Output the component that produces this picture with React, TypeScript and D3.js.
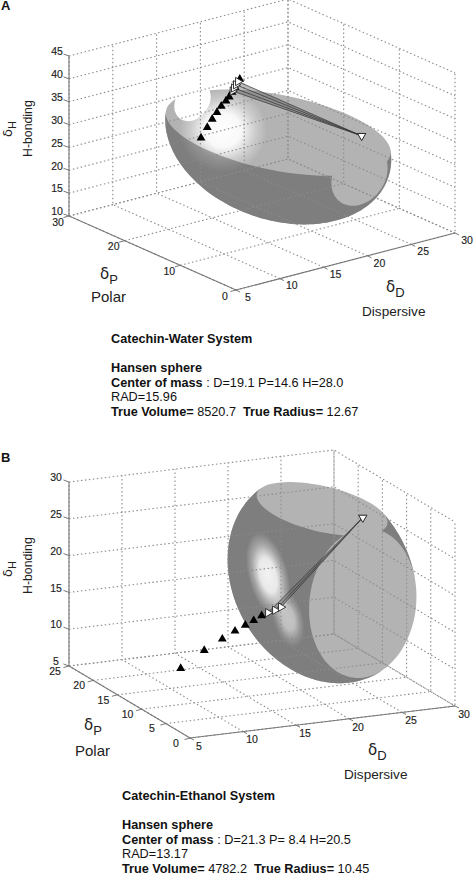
import React, { useMemo } from "react";
import * as d3 from "d3";

type P3 = [number, number, number];

// tick values, panel A (water)
const dTicksA = [5, 10, 15, 20, 25, 30];
const pTicksA = [0, 10, 20, 30];
const hTicksA = [10, 15, 20, 25, 30, 35, 40, 45];
// tick values, panel B (ethanol)
const dTicksB = [5, 10, 15, 20, 25, 30];
const pTicksB = [0, 5, 10, 15, 20, 25];
const hTicksB = [5, 10, 15, 20, 25, 30];

// Hansen sphere: D, P, H of the centre, then RAD
const centerA: P3 = [19.1, 14.6, 28.0];
const radA = 15.96;
const centerB: P3 = [21.3, 8.4, 20.5];
const radB = 13.17;

// [D, P, H] of the solvent mixtures
const blackA: P3[] = [
  [15.6, 22.97, 25.6], [15.6, 21.84, 28.5], [15.6, 20.95, 30.8], [15.6, 20.1, 32.7],
  [15.6, 19.33, 34.5], [15.6, 18.48, 36.1], [15.6, 17.89, 37.3], [15.6, 17.4, 38.6],
  [15.6, 16.85, 40.0], [15.6, 16.0, 42.2],
];
const openA: P3[] = [
  [15.6, 17.3, 38.9], [15.6, 17.05, 39.7], [15.6, 16.7, 40.6], [15.6, 16.33, 41.5],
];
const soluteA: P3 = [25.7, 10.0, 28.0];

const blackB: P3[] = [
  [12, 17.25, 6.5], [13, 14.57, 9.8], [13.5, 11.94, 12.3], [14, 10.41, 13.9],
  [14.5, 9.38, 15.0], [15, 8.74, 15.8], [15.3, 7.75, 16.8],
];
const openB: P3[] = [
  [15.5, 6.88, 17.5], [15.7, 5.87, 18.2], [15.8, 4.86, 19.0],
];
const soluteB: P3 = [25, 8.1, 28.3];

// where the surface catches the light: [D, P, H]
const glowA: P3[] = [[15.6, 19, 29.4]];
const glowB: P3[] = [[15.8, 7.5, 22.3], [15.8, 3.4, 18.1]];

const textA = ["Catechin-Water System", "Hansen sphere"];
const textB = ["Catechin-Ethanol System", "Hansen sphere"];

const font = "'Liberation Sans', Arial, sans-serif";
const INNER = "#b3b3b3";
const OUTER = "#7e7e7e";

type Cut = (p: P3) => number;

const clipPoly = (poly: P3[], f: Cut) => {
  const out: P3[] = [];
  poly.forEach((a, i) => {
    const b = poly[(i + 1) % poly.length];
    const fa = f(a);
    const fb = f(b);
    if (fa >= 0) out.push(a);
    if (fa >= 0 !== fb >= 0) {
      const t = fa / (fa - fb);
      out.push([a[0] + t * (b[0] - a[0]), a[1] + t * (b[1] - a[1]), a[2] + t * (b[2] - a[2])]);
    }
  });
  return out;
};

type PanelProps = {
  id: string;
  letter: string;
  letterY: number;
  dTicks: number[];
  pTicks: number[];
  hTicks: number[];
  center: P3;
  rad: number;
  hCut: number;
  black: P3[];
  open: P3[];
  solute: P3;
  glow: P3[];
  glowR: [number, number][];
  glowAlpha: number[];
  glowTilt: number;
  outerGlow: number;
  origin: [number, number];
  dVec: [number, number];
  pVec: [number, number];
  hLen: number;
  dOff: [number, number];
  pOff: [number, number];
  hOff: number;
  deltaP: [number, number];
  polar: [number, number];
  deltaD: [number, number];
  disp: [number, number];
  deltaH: [number, number];
  hLab: [number, number];
};

const Delta = ({ x, y, sub, rotate }: { x: number; y: number; sub: string; rotate?: boolean }) => (
  <text
    transform={`translate(${x},${y})${rotate ? " rotate(-90)" : ""}`}
    fontFamily={font}
    fontSize={rotate ? 13 : 15}
    fill="#222"
  >
    <tspan fontFamily="'DejaVu Sans'">δ</tspan>
    <tspan dy={rotate ? 4 : 5} fontSize={rotate ? 11 : 13}>{sub}</tspan>
  </text>
);

const Panel = (c: PanelProps) => {
  const dDom = d3.extent(c.dTicks) as [number, number];
  const pDom = d3.extent(c.pTicks) as [number, number];
  const hDom = d3.extent(c.hTicks) as [number, number];

  const dx = d3.scaleLinear().domain(dDom).range([0, c.dVec[0]]);
  const dy = d3.scaleLinear().domain(dDom).range([0, c.dVec[1]]);
  const px = d3.scaleLinear().domain(pDom).range([0, c.pVec[0]]);
  const py = d3.scaleLinear().domain(pDom).range([0, c.pVec[1]]);
  const hy = d3.scaleLinear().domain(hDom).range([0, -c.hLen]);

  const proj = (p: P3): [number, number] => [
    c.origin[0] + dx(p[0]) + px(p[1]),
    c.origin[1] + dy(p[0]) + py(p[1]) + hy(p[2]),
  ];
  const line = d3.line<P3>().x((p) => proj(p)[0]).y((p) => proj(p)[1]);

  const [dMin, dMax] = dDom;
  const [pMin, pMax] = pDom;
  const [hMin, hMax] = hDom;

  const surf = useMemo(() => {
    // view direction in data space, the null vector of the projection, towards the camera
    const r1: P3 = [dx(dMin + 1) - dx(dMin), px(pMin + 1) - px(pMin), 0];
    const r2: P3 = [dy(dMin + 1) - dy(dMin), py(pMin + 1) - py(pMin), hy(hMin + 1) - hy(hMin)];
    const view: P3 = [
      -(r1[1] * r2[2] - r1[2] * r2[1]),
      -(r1[2] * r2[0] - r1[0] * r2[2]),
      -(r1[0] * r2[1] - r1[1] * r2[0]),
    ];
    const semi: P3 = [c.rad / 2, c.rad, c.rad];
    const cuts: Cut[] = [
      (p) => p[1] - pMin,
      (p) => pMax - p[1],
      (p) => c.hCut - p[2],
    ];
    const nu = 96;
    const nv = 48;
    const pt = (i: number, j: number): P3 => {
      const u = (i / nu) * 2 * Math.PI;
      const v = (j / nv) * Math.PI - Math.PI / 2;
      return [
        c.center[0] + semi[0] * Math.cos(v) * Math.cos(u),
        c.center[1] + semi[1] * Math.cos(v) * Math.sin(u),
        c.center[2] + semi[2] * Math.sin(v),
      ];
    };
    let inner = "";
    let outer = "";
    for (let i = 0; i < nu; i++) {
      for (let j = 0; j < nv; j++) {
        const quad = [pt(i, j), pt(i + 1, j), pt(i + 1, j + 1), pt(i, j + 1)];
        const m = quad.reduce((s, q) => [s[0] + q[0] / 4, s[1] + q[1] / 4, s[2] + q[2] / 4], [0, 0, 0]);
        const facing =
          ((m[0] - c.center[0]) / semi[0] ** 2) * view[0] +
          ((m[1] - c.center[1]) / semi[1] ** 2) * view[1] +
          ((m[2] - c.center[2]) / semi[2] ** 2) * view[2];
        let poly: P3[] = quad;
        for (const f of cuts) {
          if (poly.length) poly = clipPoly(poly, f);
        }
        if (poly.length < 3) continue;
        const d = line(poly) + "Z";
        if (facing > 0) outer += d;
        else inner += d;
      }
    }
    return { inner, outer };
  }, [c.id]);

  const gridLines: P3[][] = [
    ...c.dTicks.map((d): P3[] => [[d, pMin, hMin], [d, pMax, hMin], [d, pMax, hMax]]),
    ...c.pTicks.map((p): P3[] => [[dMin, p, hMin], [dMax, p, hMin], [dMax, p, hMax]]),
    ...c.hTicks.map((h): P3[] => [[dMin, pMax, h], [dMax, pMax, h], [dMax, pMin, h]]),
  ];

  const tri = d3.symbol(d3.symbolTriangle, 34)()!;
  const triOpen = d3.symbol(d3.symbolTriangle, 30)()!;
  const lab = { fontFamily: font, fontSize: 10.5, fill: "#222", stroke: "#222", strokeWidth: 0.15 };

  const glows = (k: number) =>
    c.glow.map((g, i) => {
      const [cx, cy] = proj(g);
      return (
        <ellipse
          key={i}
          cx={cx}
          cy={cy}
          rx={c.glowR[i][0]}
          ry={c.glowR[i][1]}
          transform={`rotate(${c.glowTilt},${cx},${cy})`}
          fill={`url(#glow-${c.id})`}
          opacity={c.glowAlpha[i] * k}
        />
      );
    });

  return (
    <g>
      <defs>
        <clipPath id={`in-${c.id}`}><path d={surf.inner} /></clipPath>
        <clipPath id={`out-${c.id}`}><path d={surf.outer} /></clipPath>
        <radialGradient id={`glow-${c.id}`}>
          <stop offset="0" stopColor="#fff" stopOpacity={1} />
          <stop offset="0.4" stopColor="#fff" stopOpacity={0.92} />
          <stop offset="0.72" stopColor="#fff" stopOpacity={0.35} />
          <stop offset="1" stopColor="#fff" stopOpacity={0} />
        </radialGradient>
      </defs>

      <path d={surf.inner} fill={INNER} />
      <g clipPath={`url(#in-${c.id})`}>{glows(1)}</g>
      <path d={surf.outer} fill={OUTER} />
      <g clipPath={`url(#out-${c.id})`}>{glows(c.outerGlow)}</g>

      {gridLines.map((g, i) => (
        <path key={i} d={line(g)!} fill="none" stroke="#8c8c8c" strokeWidth={1.1} strokeDasharray="1.5 2.5" />
      ))}

      {/* axes */}
      <path d={line([[dMin, pMax, hMax], [dMin, pMax, hMin], [dMin, pMin, hMin], [dMax, pMin, hMin]])!} fill="none" stroke="#777" strokeWidth={1.1} />
      {c.hTicks.map((h) => {
        const [x, y] = proj([dMin, pMax, h]);
        return (
          <g key={h}>
            <path d={`M${x},${y}l-5.5,-2`} stroke="#777" />
            <text x={x + c.hOff} y={y - 3.5} textAnchor="middle" dominantBaseline="middle" {...lab}>{h}</text>
          </g>
        );
      })}
      {c.pTicks.map((p) => {
        const [x, y] = proj([dMin, p, hMin]);
        return (
          <g key={p}>
            <path d={`M${x},${y}l-5.5,1.5`} stroke="#777" />
            <text x={x + c.pOff[0]} y={y + c.pOff[1]} textAnchor="middle" dominantBaseline="middle" {...lab}>{p}</text>
          </g>
        );
      })}
      {c.dTicks.map((d) => {
        const [x, y] = proj([d, pMin, hMin]);
        return (
          <g key={d}>
            <path d={`M${x},${y}l4,2`} stroke="#777" />
            <text x={x + c.dOff[0]} y={y + c.dOff[1]} textAnchor="middle" dominantBaseline="middle" {...lab}>{d}</text>
          </g>
        );
      })}

      {/* tie lines to the solute, with the grey fan between them */}
      <path d={line([c.open[0], c.solute, c.open[c.open.length - 1]])! + "Z"} fill="#666" fillOpacity={0.45} />
      {c.open.map((o, i) => (
        <path key={i} d={line([o, c.solute])!} stroke="#333" strokeOpacity={0.8} strokeWidth={0.9} fill="none" />
      ))}
      {c.black.map((b, i) => (
        <path key={i} d={tri} transform={`translate(${proj(b)[0]},${proj(b)[1]})`} fill="#000" />
      ))}
      {c.open.map((o, i) => (
        <path key={i} d={triOpen} transform={`translate(${proj(o)[0]},${proj(o)[1]}) rotate(90)`} fill="#fff" stroke="#222" strokeWidth={0.9} />
      ))}
      <path d={triOpen} transform={`translate(${proj(c.solute)[0]},${proj(c.solute)[1]}) rotate(180)`} fill="#fff" stroke="#222" strokeWidth={1} />

      <text x={1} y={c.letterY} fontFamily={font} fontSize={13} fontWeight="bold" fill="#111">{c.letter}</text>
      <Delta x={c.deltaP[0]} y={c.deltaP[1]} sub="P" />
      <text x={c.polar[0]} y={c.polar[1]} fontFamily={font} fontSize={15} fill="#222">Polar</text>
      <Delta x={c.deltaD[0]} y={c.deltaD[1]} sub="D" />
      <text x={c.disp[0]} y={c.disp[1]} fontFamily={font} fontSize={13.6} fill="#222">Dispersive</text>
      <Delta x={c.deltaH[0]} y={c.deltaH[1]} sub="H" rotate />
      <text transform={`translate(${c.hLab[0]},${c.hLab[1]}) rotate(-90)`} fontFamily={font} fontSize={12.3} fill="#222">H-bonding</text>
    </g>
  );
};

const InfoBlock = ({ x, y, title, head, center, rad, vol, trad }: { x: number; y: number; title: string; head: string; center: string; rad: string; vol: string; trad: string }) => {
  const st = { fontFamily: font, fontSize: 12.7, fill: "#111" };
  return (
    <g>
      <text x={x} y={y} {...st} fontWeight="bold">{title}</text>
      <text x={x} y={y + 29} {...st} fontWeight="bold">{head}</text>
      <text x={x} y={y + 43.5} {...st}><tspan fontWeight="bold">Center of mass</tspan> : {center}</text>
      <text x={x} y={y + 58} {...st}>{rad}</text>
      <text x={x} y={y + 72.5} {...st} xmlSpace="preserve"><tspan fontWeight="bold">True Volume=</tspan> {vol}  <tspan fontWeight="bold">True Radius=</tspan> {trad}</text>
    </g>
  );
};

export default function App() {
  return (
    <svg width={474} height={873} style={{ position: "absolute", left: 0, top: 0, display: "block", background: "#fff" }}>
      <Panel
        id="a" letter="A" letterY={10}
        dTicks={dTicksA} pTicks={pTicksA} hTicks={hTicksA}
        center={centerA} rad={radA} hCut={29.5}
        black={blackA} open={openA} solute={soluteA}
        glow={glowA} glowR={[[44, 42]]} glowAlpha={[1]} glowTilt={0} outerGlow={0.4}
        origin={[236, 290]} dVec={[219, -57]} pVec={[-167, -74]} hLen={160}
        dOff={[12, 8]} pOff={[-11, 7]} hOff={-12}
        deltaP={[100, 279]} polar={[91, 302]}
        deltaD={[386, 292]} disp={[362, 316]}
        deltaH={[12, 137]} hLab={[32, 157]}
      />
      <InfoBlock x={111} y={343} title={textA[0]} head={textA[1]} center="D=19.1 P=14.6 H=28.0" rad="RAD=15.96" vol="8520.7" trad="12.67" />
      <Panel
        id="b" letter="B" letterY={462}
        dTicks={dTicksB} pTicks={pTicksB} hTicks={hTicksB}
        center={centerB} rad={radB} hCut={30}
        black={blackB} open={openB} solute={soluteB}
        glow={glowB} glowR={[[20, 44], [15, 30]]} glowAlpha={[0.9, 0.55]} glowTilt={-15} outerGlow={1}
        origin={[190, 738]} dVec={[265, -32]} pVec={[-121, -72]} hLen={184}
        dOff={[9, 9]} pOff={[-14, 6]} hOff={-13}
        deltaP={[84, 730]} polar={[75, 756]}
        deltaD={[368, 755]} disp={[344, 779]}
        deltaH={[12, 577]} hLab={[32, 594]}
      />
      <InfoBlock x={122} y={800} title={textB[0]} head={textB[1]} center="D=21.3 P= 8.4 H=20.5" rad="RAD=13.17" vol="4782.2" trad="10.45" />
    </svg>
  );
}
